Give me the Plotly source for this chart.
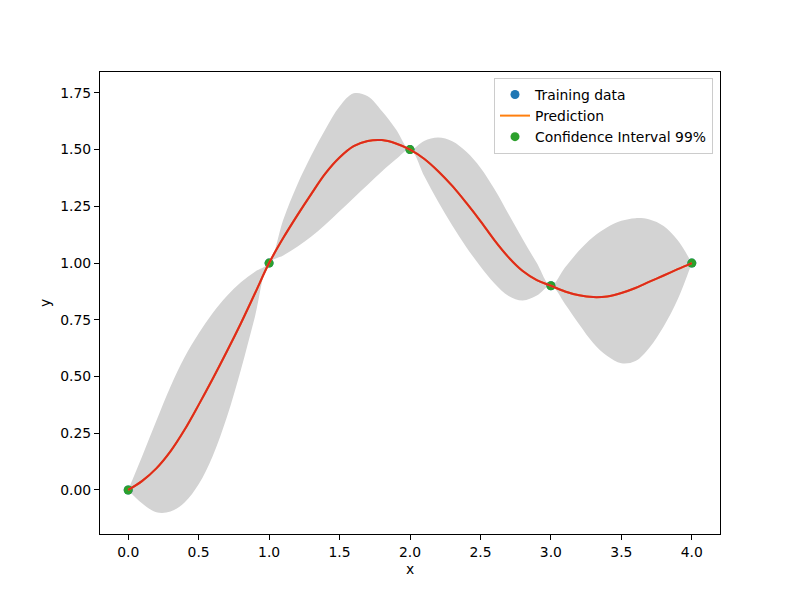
import plotly.graph_objects as go

# ---- data ----
x_grid = [0.0, 0.1, 0.2, 0.3, 0.4, 0.5, 0.6, 0.7, 0.8, 0.9, 1.0,
          1.1, 1.2, 1.3, 1.4, 1.5, 1.6, 1.7, 1.8, 1.9, 2.0,
          2.1, 2.2, 2.3, 2.4, 2.5, 2.6, 2.7, 2.8, 2.9, 3.0,
          3.1, 3.2, 3.3, 3.4, 3.5, 3.6, 3.7, 3.8, 3.9, 4.0]

prediction = [0.0, 0.04, 0.095, 0.17, 0.265, 0.375, 0.49, 0.61, 0.735, 0.867, 1.0,
              1.11, 1.21, 1.305, 1.395, 1.465, 1.515, 1.538, 1.542, 1.527, 1.5,
              1.46, 1.405, 1.34, 1.265, 1.185, 1.10, 1.025, 0.965, 0.925, 0.9,
              0.875, 0.858, 0.85, 0.853, 0.868, 0.89, 0.918, 0.945, 0.973, 1.0]

upper = [0.0, 0.15, 0.305, 0.455, 0.585, 0.69, 0.78, 0.855, 0.915, 0.962, 1.0,
         1.19, 1.345, 1.475, 1.59, 1.69, 1.748, 1.735, 1.67, 1.59, 1.5,
         1.538, 1.553, 1.537, 1.49, 1.42, 1.325, 1.215, 1.105, 1.0, 0.9,
         0.98, 1.055, 1.115, 1.158, 1.186, 1.198, 1.192, 1.163, 1.10, 1.0]

lower = [0.0, -0.06, -0.098, -0.095, -0.055, 0.025, 0.15, 0.32, 0.53, 0.765, 1.0,
         1.033, 1.072, 1.117, 1.17, 1.228, 1.287, 1.345, 1.403, 1.457, 1.5,
         1.385, 1.27, 1.165, 1.07, 0.985, 0.91, 0.855, 0.835, 0.857, 0.9,
         0.82, 0.73, 0.648, 0.59, 0.558, 0.568, 0.628, 0.72, 0.84, 1.0]

train_x = [0, 1, 2, 3, 4]
train_y = [0.0, 1.0, 1.5, 0.9, 1.0]

x_ticks = [0.0, 0.5, 1.0, 1.5, 2.0, 2.5, 3.0, 3.5, 4.0]
y_ticks = [0.0, 0.25, 0.5, 0.75, 1.0, 1.25, 1.5, 1.75]

FONT = "DejaVu Sans, Liberation Sans, sans-serif"
FS = 13.9
SMOOTH = 1.0

fig = go.Figure()

# confidence band
fig.add_trace(go.Scatter(x=x_grid, y=upper, mode="lines",
                         line=dict(width=0, shape="spline", smoothing=SMOOTH),
                         showlegend=False, hoverinfo="skip"))
fig.add_trace(go.Scatter(x=x_grid, y=lower, mode="lines",
                         line=dict(width=0, shape="spline", smoothing=SMOOTH),
                         fill="tonexty", fillcolor="#d3d3d3",
                         showlegend=False, hoverinfo="skip"))

# training data
fig.add_trace(go.Scatter(x=train_x, y=train_y, mode="markers", name="Training data",
                         marker=dict(color="#1f77b4", size=9), legendrank=1))
# green points
fig.add_trace(go.Scatter(x=train_x, y=train_y, mode="markers", name="Confidence Interval 99%",
                         marker=dict(color="#2ca02c", size=9), legendrank=3))
# prediction (orange, legend) and red overlay
fig.add_trace(go.Scatter(x=x_grid, y=prediction, mode="lines", name="Prediction",
                         line=dict(color="#ff7f0e", width=2, shape="spline", smoothing=SMOOTH),
                         legendrank=2))
fig.add_trace(go.Scatter(x=x_grid, y=prediction, mode="lines", showlegend=False,
                         line=dict(color="#dd2a1e", width=2, shape="spline", smoothing=SMOOTH)))

axis_common = dict(showgrid=False, zeroline=False, showline=True, linecolor="black",
                   linewidth=1, mirror=True, ticks="outside", ticklen=5, tickwidth=1,
                   tickcolor="black", tickfont=dict(family=FONT, size=FS, color="black"))

fig.update_layout(
    width=800, height=600,
    margin=dict(l=100, r=80, t=72, b=66),
    paper_bgcolor="white", plot_bgcolor="white",
    font=dict(family=FONT, size=FS, color="black"),
    xaxis=dict(range=[-0.2, 4.2], tickvals=x_ticks, tickformat=".1f",
               title=dict(text="x", font=dict(family=FONT, size=FS), standoff=5),
               **axis_common),
    yaxis=dict(range=[-0.194, 1.842], tickvals=y_ticks, tickformat=".2f",
               title=dict(text="y", font=dict(family=FONT, size=FS), standoff=6),
               **axis_common),
    legend=dict(x=0.9887, y=0.987, xanchor="right", yanchor="top",
                bgcolor="white", bordercolor="#cccccc", borderwidth=1,
                font=dict(family=FONT, size=FS, color="black"),
                traceorder="normal", tracegroupgap=0),
    showlegend=True,
)

fig.write_html("out.html")
